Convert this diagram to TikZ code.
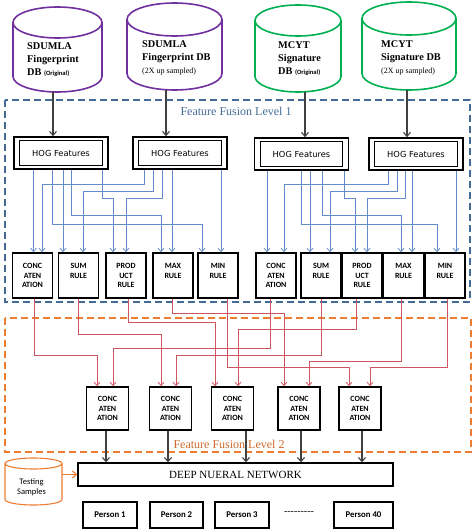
\documentclass[tikz,border=0pt]{standalone}
\usepackage{fontspec}
\setmainfont{Liberation Serif}
\setsansfont{Carlito}
\newfontfamily\hogfont{DejaVu Sans}
\usetikzlibrary{arrows.meta}

\definecolor{dbpurple}{RGB}{112,48,160}
\definecolor{dbgreen}{RGB}{0,176,80}
\definecolor{lvlblue}{RGB}{70,106,150}
\definecolor{wireblue}{RGB}{100,140,205}
\definecolor{wirered}{RGB}{205,85,95}
\definecolor{lvlorange}{RGB}{237,125,49}
\definecolor{txtorange}{RGB}{205,105,45}

\tikzset{
  dbspace/.style={inner sep=0pt, outer sep=0pt},
  dbline/.style={line width=1.6pt},
  dbtext/.style={anchor=north west, align=left, inner sep=0pt, font=\fontsize{10.3}{13}\selectfont\bfseries},
  hogbox/.style={draw, line width=1.6pt, minimum width=94, minimum height=32, inner sep=0pt, font=\hogfont\fontsize{8.3}{10}\selectfont},
  hoginner/.style={line width=0.7pt},
  rulebox/.style={draw, line width=1.6pt, minimum width=40, minimum height=45, inner sep=0pt, align=center, font=\sffamily\bfseries\fontsize{8}{9.5}\selectfont},
  catbox/.style={rulebox, minimum width=42, minimum height=43},
  dnnbox/.style={draw, line width=1.4pt, minimum width=315, minimum height=23, inner sep=0pt, font=\fontsize{11}{13}\selectfont},
  personbox/.style={draw, line width=1.4pt, minimum width=54, minimum height=26, inner sep=0pt, font=\sffamily\bfseries\fontsize{8.8}{10}\selectfont},
  lvltext/.style={inner sep=0pt, font=\fontsize{12}{14}\selectfont},
  lvlframe1/.style={draw=lvlblue, line width=1.1pt, dash pattern=on 7pt off 4pt},
  lvlframe2/.style={draw=lvlorange, line width=1.1pt, dash pattern=on 7pt off 4pt},
  feed/.style={draw=black!75, line width=1.1pt, -{Straight Barb[length=4pt,width=7pt]}},
  wire/.style={draw=wireblue, line width=0.8pt, -{Straight Barb[length=3.5pt,width=6pt]}},
  fuse/.style={draw=wirered, line width=0.8pt, -{Straight Barb[length=3.5pt,width=6pt]}},
}
% name, centre x, centre y, x radius, half height, y radius of the ends, colour
\newcommand{\dbcyl}[7]{%
  \node[dbspace, minimum width=2*#4, minimum height=2*#5] (#1) at (#2,#3) {};
  \draw[dbline, #7] ([yshift=-#6pt]#1.north west) -- ([yshift=#6pt]#1.south west)
    arc[start angle=180, end angle=360, x radius=#4pt, y radius=#6pt]
    -- ([yshift=-#6pt]#1.north east)
    arc[start angle=0, end angle=180, x radius=#4pt, y radius=#6pt]
    arc[start angle=180, end angle=360, x radius=#4pt, y radius=#6pt];
}
\newcommand{\origtag}{\sffamily\bfseries\fontsize{6.5}{8}\selectfont}
\newcommand{\upstag}{\mdseries\fontsize{8}{10}\selectfont}

\begin{document}
\begin{tikzpicture}[x=1pt,y=-1pt]
\useasboundingbox (0,0) rectangle (474,532);

%the two fusion frames
\draw[lvlframe1] (5,100) rectangle (470,302);
\draw[lvlframe2] (5,318) rectangle (471,452);
\node[lvltext, text=lvlblue] (lvl1) at (236,111) {Feature Fusion Level 1};
\node[lvltext, text=txtorange] (lvl2) at (229,444) {Feature Fusion Level 2};

%the databases along the top
\dbcyl{db1}{57.5}{49.5}{44.5}{42.5}{15.5}{dbpurple}
\dbcyl{db2}{174.5}{46.5}{47.5}{43.5}{16.5}{dbpurple}
\dbcyl{db3}{298}{48.5}{43}{43.5}{15.5}{dbgreen}
\dbcyl{db4}{409}{46}{47}{44}{16.5}{dbgreen}
\node[dbtext] (db1t) at (27,42.5) {SDUMLA\\Fingerprint\\DB {\origtag(Original)}};
\node[dbtext] (db2t) at (142,40.5) {SDUMLA\\Fingerprint DB\\{\upstag(2X up sampled)}};
\node[dbtext] (db3t) at (278,41.5) {MCYT\\Signature\\DB {\origtag(Original)}};
\node[dbtext] (db4t) at (381,40.5) {MCYT\\Signature DB\\{\upstag(2X up sampled)}};

%the HOG feature boxes
\node[hogbox] (hog1) at (61,153) {HOG Features};
\node[hogbox] (hog2) at (180,153) {HOG Features};
\node[hogbox] (hog3) at (301.5,154) {HOG Features};
\node[hogbox] (hog4) at (416,154) {HOG Features};
\foreach \h in {hog1,hog2,hog3,hog4}
  \draw[hoginner] ([xshift=6.5pt,yshift=-4pt]\h.north west) rectangle ([xshift=-6.5pt,yshift=4pt]\h.south east);

%the first level fusion rules
\node[rulebox] (catL) at (32.5,275.5) {CONC\\ATEN\\ATION};
\node[rulebox] (sumL) at (78.5,275.5) {SUM\\RULE\\~};
\node[rulebox] (prodL) at (126,275.5) {PROD\\UCT\\RULE};
\node[rulebox] (maxL) at (173,275.5) {MAX\\RULE\\~};
\node[rulebox] (minL) at (218,275.5) {MIN\\RULE\\~};
\node[rulebox] (catR) at (276,275.5) {CONC\\ATEN\\ATION};
\node[rulebox] (sumR) at (321,275.5) {SUM\\RULE\\~};
\node[rulebox] (prodR) at (362,275.5) {PROD\\UCT\\RULE};
\node[rulebox] (maxR) at (403.5,275.5) {MAX\\RULE\\~};
\node[rulebox] (minR) at (445,275.5) {MIN\\RULE\\~};

%the second level concatenation
\node[catbox] (cat1) at (107.5,408.5) {CONC\\ATEN\\ATION};
\node[catbox] (cat2) at (170.5,408.5) {CONC\\ATEN\\ATION};
\node[catbox] (cat3) at (232.5,408.5) {CONC\\ATEN\\ATION};
\node[catbox] (cat4) at (299,408.5) {CONC\\ATEN\\ATION};
\node[catbox] (cat5) at (360,408.5) {CONC\\ATEN\\ATION};

%network, test data and outputs
\node[dnnbox] (dnn) at (235.5,474.5) {DEEP NUERAL NETWORK};
\dbcyl{test}{33.5}{481.5}{28.5}{23.5}{5.5}{lvlorange, line width=1.1pt}
\node[inner sep=0pt, align=center, font=\sffamily\fontsize{8.5}{10}\selectfont] (testt) at (31.5,487) {Testing\\Samples};
\node[personbox] (p1) at (110,515) {Person 1};
\node[personbox, minimum width=53] (p2) at (176.5,515) {Person 2};
\node[personbox] (p3) at (242,515) {Person 3};
\node[inner sep=0pt, font=\fontsize{10}{12}\selectfont] (pdots) at (299,513) {-{}-{}-{}-{}-{}-{}-{}-{}-};
\node[personbox, minimum width=59] (p4) at (363.5,515) {Person 40};

%databases into HOG
\draw[feed] (db1.south -| 53,0) -- (hog1.north -| 53,0);
\draw[feed] (db2.south -| 166,0) -- (hog2.north -| 166,0);
\draw[feed] (db3.south -| 305,0) -- (hog3.north -| 305,0);
\draw[feed] (db4.south -| 407,0) -- (hog4.north -| 407,0);

%HOG into the left rules
\draw[wire] (hog1.south -| 33.5,0) -- (catL.north -| 33.5,0);
\draw[wire] (hog2.south -| 144,0) -- (144,184) -| (catL.north -| 42,0);
\draw[wire] (hog1.south -| 63,0) -- (sumL.north -| 63,0);
\draw[wire] (hog2.south -| 153,0) -- (153,191) -| (sumL.north -| 83,0);
\draw[wire] (hog1.south -| 102,0) -- (102,198) -| (prodL.north -| 113,0);
\draw[wire] (hog2.south -| 162,0) -- (162,198) -| (prodL.north -| 126,0);
\draw[wire] (hog1.south -| 71,0) -- (71,215) -| (maxL.north -| 161,0);
\draw[wire] (hog2.south -| 172,0) -- (maxL.north -| 172,0);
\draw[wire] (hog1.south -| 52,0) -- (52,224) -| (minL.north -| 202,0);
\draw[wire] (hog2.south -| 221,0) -- (minL.north -| 221,0);

%HOG into the right rules
\draw[wire] (hog3.south -| 267,0) -- (catR.north -| 267,0);
\draw[wire] (hog4.south -| 388,0) -- (388,184) -| (catR.north -| 284,0);
\draw[wire] (hog3.south -| 310,0) -- (sumR.north -| 310,0);
\draw[wire] (hog4.south -| 397,0) -- (397,191) -| (sumR.north -| 330,0);
\draw[wire] (hog3.south -| 344,0) -- (344,198) -| (prodR.north -| 355,0);
\draw[wire] (hog4.south -| 405,0) -- (405,198) -| (prodR.north -| 367,0);
\draw[wire] (hog3.south -| 322,0) -- (322,215) -| (maxR.north -| 401,0);
\draw[wire] (hog4.south -| 412,0) -- (maxR.north -| 412,0);
\draw[wire] (hog3.south -| 301,0) -- (301,224) -| (minR.north -| 437,0);
\draw[wire] (hog4.south -| 456,0) -- (minR.north -| 456,0);

%rules into the second level
\draw[fuse] (catL.south -| 34,0) -- (34,355) -| (cat1.north -| 97,0);
\draw[fuse] (sumL.south -| 78,0) -- (78,334) -| (cat2.north -| 161,0);
\draw[fuse] (prodL.south -| 128,0) -- (128,322) -| (cat3.north -| 215,0);
\draw[fuse] (maxL.south -| 172,0) -- (172,313) -| (cat4.north -| 284,0);
\draw[fuse] (minL.south -| 227,0) -- (227,367) -| (cat5.north -| 349,0);
\draw[fuse] (catR.south -| 270,0) -- (270,348) -| (cat1.north -| 113,0);
\draw[fuse] (sumR.south -| 321,0) -- (321,355) -| (cat2.north -| 176,0);
\draw[fuse] (prodR.south -| 356,0) -- (356,329) -| (cat3.north -| 238,0);
\draw[fuse] (maxR.south -| 401,0) -- (401,361) -| (cat4.north -| 309,0);
\draw[fuse] (minR.south -| 447,0) -- (447,367) -| (cat5.north -| 370,0);

%second level into the network
\draw[feed] (cat1.south -| 106,0) -- (dnn.north -| 106,0);
\draw[feed] (cat2.south -| 168,0) -- (dnn.north -| 168,0);
\draw[feed] (cat3.south -| 246,0) -- (dnn.north -| 246,0);
\draw[feed] (cat4.south -| 301,0) -- (dnn.north -| 301,0);
\draw[feed] (cat5.south -| 362,0) -- (dnn.north -| 362,0);
\draw[feed, draw=lvlorange] (test.east |- dnn.west) -- (dnn.west);
\end{tikzpicture}
\end{document}
